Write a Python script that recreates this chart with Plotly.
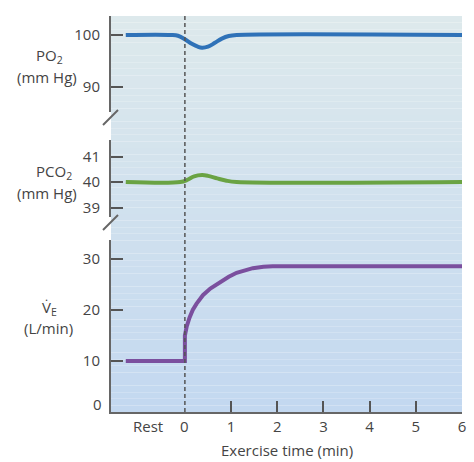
import plotly.graph_objects as go

# ---- data ----
po2_t = [-1.28, -0.3, -0.15, 0.0, 0.15, 0.28, 0.37, 0.5, 0.65, 0.8, 0.95, 1.12, 6.0]
po2_v = [100, 100, 99.85, 99.2, 98.3, 97.75, 97.55, 97.75, 98.5, 99.3, 99.8, 100, 100]

pco2_t = [-1.28, -0.1, 0.05, 0.2, 0.37, 0.5, 0.7, 0.9, 1.12, 6.0]
pco2_v = [40, 40, 40.08, 40.22, 40.27, 40.24, 40.14, 40.05, 40.0, 40]

ve_t = [-1.28, 0.0, 0.0, 0.04, 0.1, 0.17, 0.25, 0.39, 0.55, 0.76, 0.95, 1.12, 1.3, 1.47, 1.7, 1.9, 6.0]
ve_v = [10, 10, 15, 16.8, 18.5, 20, 21.2, 22.9, 24.2, 25.5, 26.5, 27.3, 27.8, 28.2, 28.5, 28.6, 28.6]

x_tickvals = [1, 2, 3, 4, 5, 6]
x_ticktext = ["1", "2", "3", "4", "5", "6"]
x_extra_labels = [(-0.8, "Rest"), (0, "0")]

FONT = "Open Sans"
TXT = "#444444"
AX = "#666666"
FS = 15

fig = go.Figure()
fig.add_trace(go.Scatter(x=ve_t, y=ve_v, mode="lines", yaxis="y",
                         line=dict(color="#7b4f9e", width=4), hoverinfo="skip"))
fig.add_trace(go.Scatter(x=pco2_t, y=pco2_v, mode="lines", yaxis="y2",
                         line=dict(color="#6aa343", width=4, shape="spline", smoothing=1),
                         hoverinfo="skip"))
fig.add_trace(go.Scatter(x=po2_t, y=po2_v, mode="lines", yaxis="y3",
                         line=dict(color="#2f72b8", width=4, shape="spline", smoothing=1),
                         hoverinfo="skip"))

H = 396.0  # plot height in px (16..412)


def py(ypix):
    return (412 - ypix) / H


W = 351.0

yax_common = dict(showline=True, linecolor=AX, linewidth=2, ticks="inside",
                  ticklen=12, tickwidth=2, tickcolor="#555555", showgrid=False,
                  zeroline=False, tickfont=dict(family=FONT, size=FS, color=TXT),
                  ticklabelstandoff=6, fixedrange=True, automargin=False)

shapes = []
# background gradient
top_c = (0xdd, 0xe9, 0xec)
bot_c = (0xc3, 0xd8, 0xf0)
N = 60
for i in range(N):
    f = i / (N - 1)
    c = tuple(int(round(top_c[k] + (bot_c[k] - top_c[k]) * f)) for k in range(3))
    shapes.append(dict(type="rect", xref="paper", yref="paper", x0=0, x1=1,
                       y0=1 - (i + 1) / N, y1=1 - i / N, layer="below",
                       line=dict(width=0), fillcolor="rgb(%d,%d,%d)" % c))
# dashed vertical line at exercise onset
shapes.append(dict(type="line", xref="x", yref="paper", x0=0, x1=0, y0=0, y1=1,
                   line=dict(color="#555555", width=1.5, dash="4px,3px")))
# axis break slashes
for (y_lo, y_hi) in [(125, 110), (230, 215)]:
    shapes.append(dict(type="line", xref="paper", yref="paper",
                       x0=-8 / W, x1=7 / W, y0=py(y_lo), y1=py(y_hi),
                       line=dict(color=AX, width=2)))

annotations = []
for xv, txt in x_extra_labels:
    annotations.append(dict(x=xv, xref="x", y=py(426), yref="paper", text=txt,
                            showarrow=False, font=dict(family=FONT, size=FS, color=TXT),
                            xanchor="center", yanchor="middle"))
annotations.append(dict(x=0, xref="paper", xshift=-7, y=py(404), yref="paper", text="0",
                        showarrow=False, font=dict(family=FONT, size=FS, color=TXT),
                        xanchor="right", yanchor="middle"))
for (xc, yc, txt) in [(50, 56, "PO<sub>2</sub>"), (47, 77, "(mm Hg)"),
                      (54, 172, "PCO<sub>2</sub>"), (47, 193, "(mm Hg)"),
                      (50, 308, "V\u0307<sub>E</sub>"), (48, 328, "(L/min)")]:
    annotations.append(dict(x=(xc - 111) / W, xref="paper", y=py(yc), yref="paper",
                            text=txt, showarrow=False, align="center",
                            font=dict(family=FONT, size=FS, color=TXT),
                            xanchor="center", yanchor="middle"))
annotations.append(dict(x=0.5, xref="paper", y=py(450), yref="paper",
                        text="Exercise time (min)", showarrow=False,
                        font=dict(family=FONT, size=FS, color=TXT),
                        xanchor="center", yanchor="middle"))

fig.update_layout(
    width=474, height=462,
    margin=dict(l=111, r=12, t=16, b=50, autoexpand=False),
    paper_bgcolor="white", plot_bgcolor="rgba(0,0,0,0)",
    showlegend=False,
    xaxis=dict(range=[-1.6, 6], showline=True, linecolor=AX, linewidth=2,
               ticks="inside", ticklen=11, tickwidth=2, tickcolor="#555555",
               tickvals=x_tickvals, ticktext=x_ticktext, showgrid=False, zeroline=False,
               tickfont=dict(family=FONT, size=FS, color=TXT), ticklabelstandoff=0,
               anchor="y", fixedrange=True, automargin=False),
    yaxis=dict(domain=[0, py(240)], range=[0, 172 / 5.1], tickvals=[10, 20, 30], **yax_common),
    yaxis2=dict(domain=[py(217), py(140)], range=[40 - 35 / 25.5, 40 + 42 / 25.5],
                tickvals=[39, 40, 41], anchor="x", **yax_common),
    yaxis3=dict(domain=[py(112), 1], range=[100 - 77 / 5.2, 100 + 19 / 5.2],
                tickvals=[90, 100], anchor="x", **yax_common),
    shapes=shapes, annotations=annotations,
)

fig.write_html("out.html", config={"displayModeBar": False})
